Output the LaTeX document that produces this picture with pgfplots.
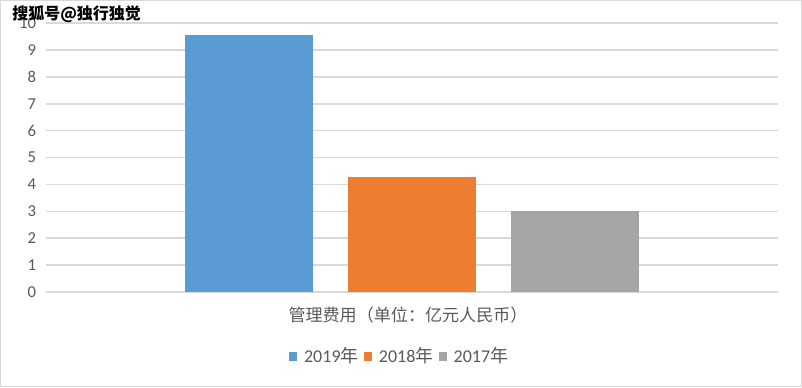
\documentclass[border=0pt]{standalone}
\usepackage{pgfplots}
\pgfplotsset{compat=1.18}
\usepackage{fontspec}
\setmainfont{Carlito}
\newfontfamily\cjk{Noto Sans CJK SC}
\definecolor{cblue}{HTML}{5B9BD5}
\definecolor{corange}{HTML}{ED7D31}
\definecolor{cgray}{HTML}{A5A5A5}
\definecolor{gridc}{HTML}{D9D9D9}
\definecolor{tickc}{HTML}{595959}
\begin{document}
\begin{tikzpicture}
\draw[color=gridc, line width=0.75pt] (0.375pt,0.375pt) rectangle (601.125pt,289.875pt);
\begin{axis}[
  at={(34.5pt,71.25pt)}, anchor=south west,
  scale only axis, width=549pt, height=201.75pt,
  xmin=-0.5, xmax=0.5, ymin=0, ymax=10,
  ytick={0,1,...,10},
  xtick={0},
  xticklabels={{\cjk 管理费用（单位：亿元人民币）}},
  axis line style={draw=none},
  tick style={draw=none},
  ymajorgrids,
  grid style={color=gridc, line width=1.2pt},
  yticklabel style={font=\fontsize{12.5}{14}\selectfont, text=tickc, xshift=-4pt},
  xticklabel style={font=\fontsize{12.8}{16}\selectfont, text=tickc, yshift=-3pt, xshift=-3pt},
  /pgf/number format/assume math mode=true,
  ybar, bar width=0.175,
  legend style={at={(0.4836,-0.238)}, anchor=center, draw=none, fill=none,
    legend columns=3, font=\fontsize{13.5}{16}\selectfont, text=tickc,
    /tikz/every odd column/.append style={column sep=3pt},
    /tikz/every even column/.append style={column sep=2pt}},
  legend image code/.code={\fill[#1] (0pt,-3.4pt) rectangle (6.2pt,2.8pt);},
]
\addplot[fill=cblue, draw=none, bar shift=0pt] coordinates {(-0.2227,9.55)};
\addlegendentry{2019{\cjk 年}}
\addplot[fill=corange, draw=none, bar shift=0pt] coordinates {(0,4.28)};
\addlegendentry{2018{\cjk 年}}
\addplot[fill=cgray, draw=none, bar shift=0pt] coordinates {(0.2227,3.01)};
\addlegendentry{2017{\cjk 年}}
\end{axis}
\node[anchor=west, inner sep=0pt, font=\cjk\bfseries\fontsize{12}{14}\selectfont, text=black]
  at (9pt,279.5pt) {搜狐号@独行独觉};
\end{tikzpicture}
\end{document}
